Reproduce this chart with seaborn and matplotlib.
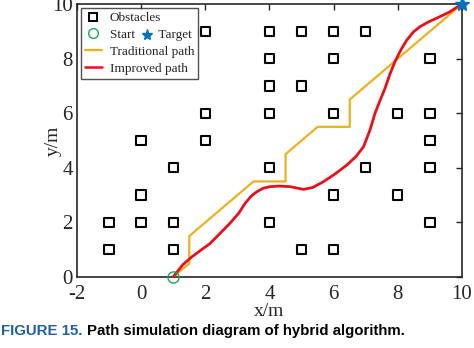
import numpy as np
import pandas as pd
import matplotlib
matplotlib.use("Agg")
import matplotlib.pyplot as plt
from matplotlib.lines import Line2D
import seaborn as sns

# obstacle grid cells
obs_x = [2, 4, 5, 6, 7, 4, 6, 9, 4, 5, 2, 4, 6, 8, 9, 0, 2, 9,
         1, 4, 7, 9, 0, 6, 8, -1, 0, 1, 4, 9, -1, 1, 5, 6]
obs_y = [9, 9, 9, 9, 9, 8, 8, 8, 7, 7, 6, 6, 6, 6, 6, 5, 5, 5,
         4, 4, 4, 4, 3, 3, 3, 2, 2, 2, 2, 2, 1, 1, 1, 1]

start = (1, 0)
target = (10, 10)

trad_x = [1, 1.5, 1.5, 3.5, 4.5, 4.5, 5.5, 6.5, 6.5, 10]
trad_y = [0, 0.5, 1.5, 3.5, 3.5, 4.5, 5.5, 5.5, 6.5, 10]

imp_x = [1.0, 1.06, 1.3, 1.58, 2.15, 2.77, 3.05, 3.24, 3.42, 3.6, 3.8, 4.02, 4.3,
         4.64, 5.06, 5.35, 5.68, 6.05, 6.41, 6.7, 6.93, 7.13, 7.29, 7.45, 7.6,
         7.75, 7.91, 8.1, 8.28, 8.48, 8.69, 8.95, 9.21, 9.6, 10.0]
imp_y = [0.0, 0.1, 0.45, 0.74, 1.23, 1.97, 2.35, 2.7, 2.95, 3.12, 3.25, 3.31, 3.33,
         3.31, 3.21, 3.28, 3.49, 3.78, 4.1, 4.42, 4.77, 5.38, 6.0, 6.48, 6.91,
         7.42, 7.89, 8.33, 8.68, 8.97, 9.17, 9.34, 9.48, 9.7, 10.0]

xticks = [-2, 0, 2, 4, 6, 8, 10]
yticks = [0, 2, 4, 6, 8, 10]

c_trad = "#EDB120"
c_imp = "#E8101A"
c_start = "#1BA65A"
c_target = "#0072BD"

sns.set_style("white")
plt.rcParams["font.family"] = ["Liberation Serif", "DejaVu Serif"]
plt.rcParams["axes.unicode_minus"] = False

fig = plt.figure(figsize=(4.74, 3.48), dpi=100)
ax = fig.add_axes([0.1624, 0.204, 0.8123, 0.7845])

obs = pd.DataFrame({"x": obs_x, "y": obs_y})
sns.scatterplot(data=obs, x="x", y="y", marker="s", s=45, facecolor="none",
                edgecolor="black", linewidth=1.5, ax=ax, zorder=3)

trad = pd.DataFrame({"x": trad_x, "y": trad_y})
imp = pd.DataFrame({"x": imp_x, "y": imp_y})
sns.lineplot(data=trad, x="x", y="y", sort=False, estimator=None, color=c_trad,
             lw=1.6, ax=ax, zorder=4)
sns.lineplot(data=imp, x="x", y="y", sort=False, estimator=None, color=c_imp,
             lw=2.0, ax=ax, zorder=5)

ax.plot(*start, marker="o", ms=8, mfc="none", mec=c_start, mew=1.0, clip_on=False, zorder=6)
ax.plot(*target, marker="*", ms=10, color=c_target, clip_on=False, zorder=6)

ax.set_xlim(-2, 10)
ax.set_ylim(0, 10)
ax.set_xticks(xticks)
ax.set_yticks(yticks)
ax.tick_params(direction="in", length=4, width=1.0, top=True, right=True,
               labelsize=15, colors="#262626")
ax.tick_params(axis="x", pad=6)
ax.tick_params(axis="y", pad=3)
for s in ax.spines.values():
    s.set_visible(True)
    s.set_linewidth(1.2)
    s.set_color("#262626")
ax.set_xlabel("x/m", fontsize=14)
ax.set_ylabel("y/m", fontsize=14)
ax.xaxis.set_label_coords(0.5, -0.095)
ax.yaxis.set_label_coords(-0.04, 0.5)

handles = [
    Line2D([], [], ls="none", marker="s", ms=6, mfc="none", mec="black", mew=1.4),
    Line2D([], [], ls="none", marker="o", ms=7, mfc="none", mec=c_start, mew=1.0),
    Line2D([], [], color=c_trad, lw=1.6),
    Line2D([], [], color=c_imp, lw=1.8),
]
labels = ["Obstacles", "Start       Target", "Traditional path", "Improved path"]
leg = ax.legend(handles, labels, loc="upper left", fontsize=9.5, frameon=True,
                fancybox=False, edgecolor="#262626", handlelength=1.3,
                handletextpad=0.6, labelspacing=0.35, borderpad=0.3,
                borderaxespad=0.3)
leg.get_frame().set_linewidth(1.0)

# star + "Target" sit inside the second legend row
fig.canvas.draw()
r = fig.canvas.get_renderer()
t = leg.get_texts()[1]
bb = t.get_window_extent(r)
fp = t.get_fontproperties()
w_a = r.get_text_width_height_descent("Start ", fp, ismath=False)[0]
w_b = r.get_text_width_height_descent("Start      ", fp, ismath=False)[0]
sx = bb.x0 + (w_a + w_b) / 2
sy = (bb.y0 + bb.y1) / 2
fx, fy = fig.transFigure.inverted().transform((sx, sy))
fig.add_artist(Line2D([fx], [fy], ls="none", marker="*", ms=8, color=c_target,
                      transform=fig.transFigure))

# caption
cap1 = fig.text(0.003, 0.049, "FIGURE 15.", family="Liberation Sans", weight="bold",
                fontsize=10.8, color="#1F5FA8", va="center")
fig.canvas.draw()
b1 = cap1.get_window_extent(r)
fig.text(b1.x1 / fig.bbox.width + 0.009, 0.049, "Path simulation diagram of hybrid algorithm.",
         family="Liberation Sans", weight="bold", fontsize=10.8, color="black", va="center")

fig.savefig("out.png", dpi=100)
